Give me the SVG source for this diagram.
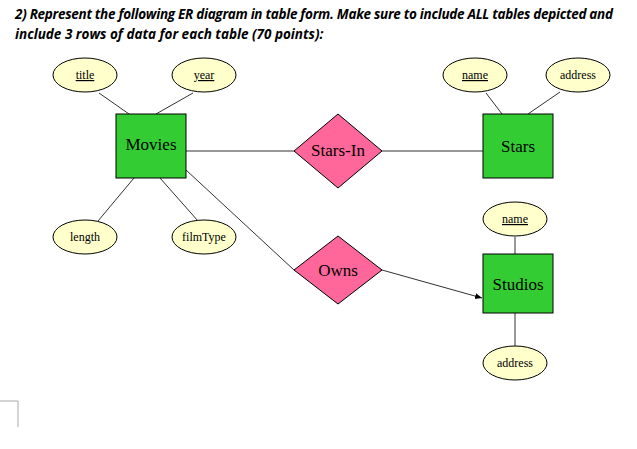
<svg xmlns="http://www.w3.org/2000/svg" width="637" height="449" viewBox="0 0 637 449">
<style>
.h{font-family:"Open Sans","Liberation Sans",sans-serif;font-style:italic;font-weight:bold;font-size:13.5px}
.a{fill:#ffffcc;stroke:#000;stroke-width:1}
.e{fill:#33cc33;stroke:#000;stroke-width:1}
.r{fill:#ff6699;stroke:#000;stroke-width:1}
.t{font-family:"Liberation Serif",serif;text-anchor:middle;fill:#000}
.s{font-size:12px}
.b{font-size:17px}
.c line{stroke:#333;stroke-width:1}
</style>
<defs><marker id="ar" markerWidth="8" markerHeight="8" refX="7" refY="4" orient="auto" markerUnits="userSpaceOnUse"><path d="M0,1 L7,4 L0,7 Z" fill="#000"/></marker></defs>
<rect width="637" height="449" fill="#fff"/>
<text class="h" x="15" y="19" textLength="598">2) Represent the following ER diagram in table form. Make sure to include ALL tables depicted and</text>
<text class="h" x="15" y="39">include 3 rows of data for each table (70 points):</text>
<g class="c">
<line x1="99" y1="93" x2="129" y2="114"/>
<line x1="193" y1="93" x2="156" y2="114"/>
<line x1="486" y1="93" x2="502" y2="114"/>
<line x1="560" y1="92" x2="528" y2="114"/>
<line x1="186" y1="151" x2="294" y2="151"/>
<line x1="382" y1="151" x2="483" y2="151"/>
<line x1="134" y1="178" x2="98" y2="221"/>
<line x1="160" y1="178" x2="198" y2="221"/>
<line x1="186" y1="170" x2="294" y2="270"/>
<line x1="382" y1="270" x2="482" y2="298" marker-end="url(#ar)"/>
<line x1="515" y1="237" x2="515" y2="254"/>
<line x1="515" y1="313" x2="515" y2="346"/>
<line x1="18" y1="401" x2="18" y2="427" style="stroke:#aaa"/>
<line x1="0" y1="401" x2="18" y2="401" style="stroke:#aaa"/>
</g>
<g id="title"><ellipse class="a" cx="85" cy="75" rx="32" ry="17"/><text class="t s" x="85" y="79" text-decoration="underline">title</text></g>
<g id="year"><ellipse class="a" cx="204" cy="75" rx="32" ry="17"/><text class="t s" x="204" y="79" text-decoration="underline">year</text></g>
<g id="sname"><ellipse class="a" cx="475" cy="75" rx="32" ry="17"/><text class="t s" x="475" y="79" text-decoration="underline">name</text></g>
<g id="saddress"><ellipse class="a" cx="578" cy="75" rx="32" ry="17"/><text class="t s" x="578" y="79">address</text></g>
<g id="movies"><rect class="e" x="116" y="114" width="70" height="64"/><text class="t b" x="151" y="150">Movies</text></g>
<g id="starsin"><polygon class="r" points="338,114 382,151 338,188 294,151"/><text class="t b" x="338" y="156">Stars-In</text></g>
<g id="stars"><rect class="e" x="483" y="114" width="70" height="64"/><text class="t b" x="518" y="152">Stars</text></g>
<g id="length"><ellipse class="a" cx="85" cy="237" rx="32" ry="17"/><text class="t s" x="85" y="241">length</text></g>
<g id="filmtype"><ellipse class="a" cx="204" cy="237" rx="32" ry="17"/><text class="t s" x="204" y="241">filmType</text></g>
<g id="owns"><polygon class="r" points="338,236 382,270 338,304 294,270"/><text class="t b" x="338" y="276">Owns</text></g>
<g id="tname"><ellipse class="a" cx="515" cy="219" rx="32" ry="17"/><text class="t s" x="515" y="223" text-decoration="underline">name</text></g>
<g id="studios"><rect class="e" x="483" y="254" width="70" height="59"/><text class="t b" x="518" y="290">Studios</text></g>
<g id="taddress"><ellipse class="a" cx="515" cy="363" rx="32" ry="17"/><text class="t s" x="515" y="367">address</text></g>
</svg>
